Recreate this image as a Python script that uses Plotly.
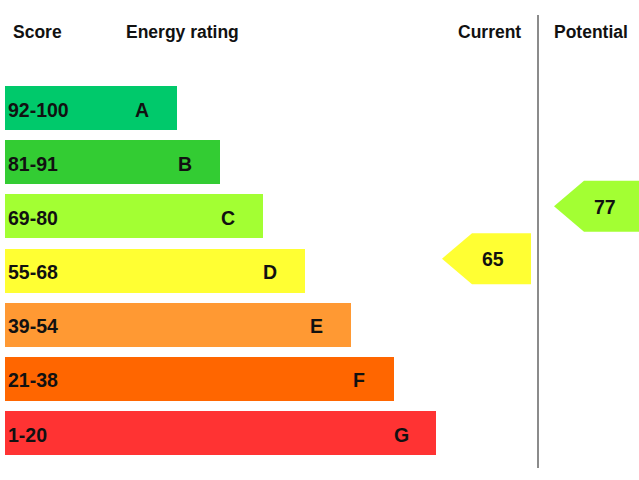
import plotly.graph_objects as go

# ---- data ----
bands = ["A", "B", "C", "D", "E", "F", "G"]
score_ranges = ["92-100", "81-91", "69-80", "55-68", "39-54", "21-38", "1-20"]
band_low = [92, 81, 69, 55, 39, 21, 1]
band_high = [100, 91, 80, 68, 54, 38, 20]
bar_lengths = [172, 215, 258, 300, 346, 389, 431]
band_colors = ["#00c96b", "#33cc33", "#a3ff33", "#ffff33", "#ff9933", "#ff6600", "#ff3333"]
current_score = 65
potential_score = 77
headers = ["Score", "Energy rating", "Current", "Potential"]

# ---- layout constants (pixels on x axis, band units on y axis) ----
W, H = 639, 480
bar_base = 5
px_per_band = 54.17
bar_thick = 44 / px_per_band
y_top = -108 / px_per_band
y_bottom = (H - 108) / px_per_band


def band_of(score):
    for i, (lo, hi) in enumerate(zip(band_low, band_high)):
        if lo <= score <= hi:
            return i
    return len(bands) - 1


def arrow_y(score):
    i = band_of(score)
    lo, hi = band_low[i], band_high[i]
    return i - bar_thick / 2 + (hi - score) / (hi - lo) * bar_thick


fig = go.Figure()

fig.add_trace(go.Bar(
    y=list(range(len(bands))),
    x=bar_lengths,
    base=bar_base,
    orientation="h",
    width=bar_thick,
    marker=dict(color=band_colors, line=dict(width=0)),
    hoverinfo="skip",
    showlegend=False,
))

font_b = "Liberation Sans, Arial, sans-serif"

for i, (rng, letter) in enumerate(zip(score_ranges, bands)):
    fig.add_annotation(x=bar_base + 1, y=i, text="<b>%s</b>" % rng, showarrow=False,
                       xanchor="left", yanchor="middle", yshift=-1.5,
                       font=dict(family=font_b, size=19.5, color="#111"))
    fig.add_annotation(x=bar_base + bar_lengths[i] - 35, y=i, text="<b>%s</b>" % letter,
                       showarrow=False, xanchor="center", yanchor="middle", yshift=-1.5,
                       font=dict(family=font_b, size=19.5, color="#111"))

half_h = 25.5 / px_per_band
tip = 30


def add_arrow(score, x_left, x_right):
    yc = arrow_y(score)
    color = band_colors[band_of(score)]
    xs = [x_left, x_left + tip, x_right, x_right, x_left + tip, x_left]
    ys = [yc, yc - half_h, yc - half_h, yc + half_h, yc + half_h, yc]
    fig.add_trace(go.Scatter(x=xs, y=ys, mode="lines", fill="toself",
                             fillcolor=color, line=dict(width=0, color=color),
                             hoverinfo="skip", showlegend=False))
    fig.add_annotation(x=(x_left + tip + x_right) / 2 - 8.5, y=yc, text="<b>%d</b>" % score,
                       showarrow=False, xanchor="center", yanchor="middle", yshift=-0.5,
                       font=dict(family=font_b, size=19.5, color="#111"))


add_arrow(current_score, 442, 531)
add_arrow(potential_score, 554, 643)

header_x = [11, 124, 456, 552]
for hx, htxt in zip(header_x, headers):
    fig.add_annotation(x=hx, y=1 - 32 / H, yref="paper", text="<b>%s</b>" % htxt,
                       showarrow=False, xanchor="left", yanchor="middle",
                       font=dict(family=font_b, size=17.5, color="#111"))

fig.add_shape(type="line", x0=538, x1=538, y0=1 - 15 / H, y1=1 - 468 / H,
              xref="x", yref="paper", line=dict(color="#6e6e6e", width=1.6))

fig.update_layout(
    width=W, height=H,
    margin=dict(l=0, r=0, t=0, b=0),
    paper_bgcolor="white", plot_bgcolor="white",
    xaxis=dict(range=[0, W], visible=False, fixedrange=True),
    yaxis=dict(range=[y_bottom, y_top], visible=False, fixedrange=True),
    bargap=0,
)

fig.write_html(
    "out.html",
    config={"displayModeBar": False},
    post_script="document.body.style.margin='0';document.body.style.overflow='hidden';",
)
